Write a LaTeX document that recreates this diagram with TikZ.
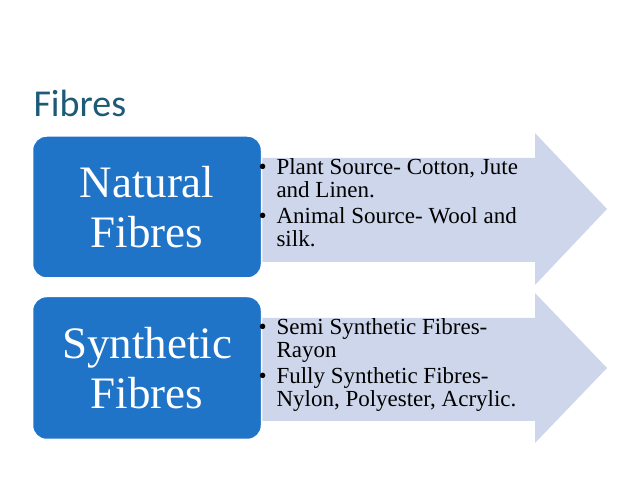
\documentclass[tikz,border=0pt]{standalone}
\usepackage{fontspec}
\setmainfont{Liberation Serif}
\newfontfamily\titlefont{Carlito}
\definecolor{boxblue}{HTML}{1F74C8}
\definecolor{arrowfill}{HTML}{CDD6EA}
\definecolor{titlecol}{HTML}{1C5A78}
\newcommand{\bu}{\makebox[21pt][l]{\hspace{3pt}•}}
\newcommand{\ind}{\hspace*{21pt}}
\begin{document}
\begin{tikzpicture}[x=1pt,y=-1pt,
  bigbox/.style={draw=white,line width=1.5pt,fill=boxblue,rounded corners=14pt,text=white,align=center,font=\fontsize{45}{50}\selectfont},
  arr/.style={fill=arrowfill,draw=none},
  bul/.style={anchor=north west,align=left,font=\fontsize{23}{23}\selectfont}]
\useasboundingbox (0,0) rectangle (638,478);
\node[anchor=west,text=titlecol,font=\titlefont\fontsize{38}{40}\selectfont] (title) at (30,103) {Fibres};
\fill[arr] (240,158) -- (535,158) -- (535,133) -- (607,209) -- (535,285) -- (535,262) -- (240,262) -- cycle;
\fill[arr] (240,318) -- (535,318) -- (535,293) -- (607,368) -- (535,443) -- (535,421) -- (240,421) -- cycle;
\node[bigbox,minimum width=229pt,minimum height=142pt] (nat) at (147,207) {Natural\\Fibres};
\node[bigbox,minimum width=229pt,minimum height=143pt] (syn) at (147,368) {Synthetic\\Fibres};
\node[bul] (t1) at (252,155) {\bu Plant Source- Cotton, Jute\\\ind and Linen.\\[3pt]\bu Animal Source- Wool and\\\ind silk.};
\node[bul] (t2) at (252,315) {\bu Semi Synthetic Fibres-\\\ind Rayon\\[3pt]\bu Fully Synthetic Fibres-\\\ind Nylon, Polyester, Acrylic.};
\end{tikzpicture}
\end{document}
